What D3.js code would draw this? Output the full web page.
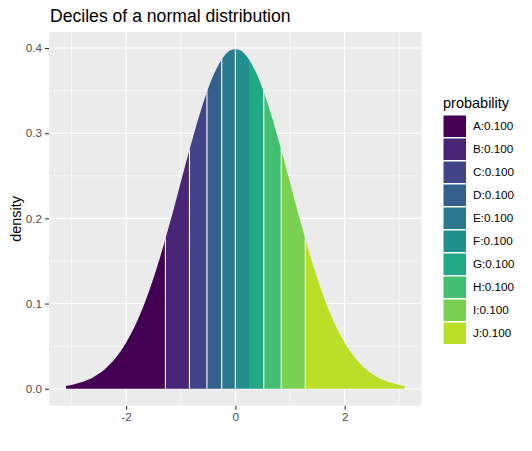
<!DOCTYPE html>
<html>
<head>
<meta charset="utf-8">
<script src="https://cdn.jsdelivr.net/npm/d3@7"></script>
<style>
  body { margin: 0; background: #fff; }
  text { font-family: "Liberation Sans", Arial, sans-serif; }
</style>
</head>
<body>
<div id="chart"></div>
<script>
const width = 532;
const height = 451;

// density curve, x from -3.1 to 3.1
const xs = [-3.1, -3.0, -2.9, -2.8, -2.7, -2.6, -2.5, -2.4, -2.3, -2.2, -2.1, -2.0,
    -1.9, -1.8, -1.7, -1.6, -1.5, -1.4, -1.3, -1.2, -1.1, -1.0, -0.9, -0.8, -0.7,
    -0.6, -0.5, -0.4, -0.3, -0.2, -0.1, 0.0, 0.1, 0.2, 0.3, 0.4, 0.5, 0.6, 0.7, 0.8,
    0.9, 1.0, 1.1, 1.2, 1.3, 1.4, 1.5, 1.6, 1.7, 1.8, 1.9, 2.0, 2.1, 2.2, 2.3, 2.4,
    2.5, 2.6, 2.7, 2.8, 2.9, 3.0, 3.1];
const densities = [0.0033, 0.0044, 0.0060, 0.0079, 0.0104, 0.0136, 0.0175, 0.0224,
    0.0283, 0.0355, 0.0440, 0.0540, 0.0656, 0.0790, 0.0940, 0.1109, 0.1295, 0.1497,
    0.1714, 0.1942, 0.2179, 0.2420, 0.2661, 0.2897, 0.3123, 0.3332, 0.3521, 0.3683,
    0.3814, 0.3910, 0.3970, 0.3989, 0.3970, 0.3910, 0.3814, 0.3683, 0.3521, 0.3332,
    0.3123, 0.2897, 0.2661, 0.2420, 0.2179, 0.1942, 0.1714, 0.1497, 0.1295, 0.1109,
    0.0940, 0.0790, 0.0656, 0.0540, 0.0440, 0.0355, 0.0283, 0.0224, 0.0175, 0.0136,
    0.0104, 0.0079, 0.0060, 0.0044, 0.0033];

// decile cut points and legend
const breaks = [-3.1, -1.28, -0.84, -0.52, -0.25, 0, 0.25, 0.52, 0.84, 1.28, 3.1];
const labels = ["A:0.100", "B:0.100", "C:0.100", "D:0.100", "E:0.100",
    "F:0.100", "G:0.100", "H:0.100", "I:0.100", "J:0.100"];
const colors = ["#440154", "#482576", "#414487", "#35608D", "#2A788E",
    "#21908C", "#22A884", "#43BF71", "#7AD151", "#BBDF27"];
const gapLines = [-1.28, -0.84, -0.52, -0.25, 0, 0.52, 0.84, 1.28];

const xTicks = [-2, 0, 2];
const xMinor = [-3, -1, 1, 3];
const yTicks = [0, 0.1, 0.2, 0.3, 0.4];
const yMinor = [0.05, 0.15, 0.25, 0.35];

const panel = { left: 49, right: 421.7, top: 32, bottom: 405.7 };

const data = xs.map((x, i) => ({ x: x, y: densities[i] }));

const svg = d3.select("#chart")
    .append("svg")
    .attr("width", width)
    .attr("height", height);

// ggplot style 5% expansion
const xExt = d3.extent(xs);
const xPad = (xExt[1] - xExt[0]) * 0.05;
const x = d3.scaleLinear()
    .domain([xExt[0] - xPad, xExt[1] + xPad])
    .range([panel.left, panel.right]);

const yMax = d3.max(densities);
const y = d3.scaleLinear()
    .domain([-yMax * 0.05, yMax * 1.05])
    .range([panel.bottom, panel.top]);

// panel background and grid
svg.append("rect")
    .attr("x", panel.left)
    .attr("y", panel.top)
    .attr("width", panel.right - panel.left)
    .attr("height", panel.bottom - panel.top)
    .attr("fill", "#EBEBEB");

const grid = svg.append("g");
grid.selectAll(".xminor").data(xMinor).enter().append("line")
    .attr("x1", d => x(d)).attr("x2", d => x(d))
    .attr("y1", panel.top).attr("y2", panel.bottom)
    .attr("stroke", "#fff").attr("stroke-width", 0.55);
grid.selectAll(".yminor").data(yMinor).enter().append("line")
    .attr("x1", panel.left).attr("x2", panel.right)
    .attr("y1", d => y(d)).attr("y2", d => y(d))
    .attr("stroke", "#fff").attr("stroke-width", 0.55);
grid.selectAll(".xmajor").data(xTicks).enter().append("line")
    .attr("x1", d => x(d)).attr("x2", d => x(d))
    .attr("y1", panel.top).attr("y2", panel.bottom)
    .attr("stroke", "#fff").attr("stroke-width", 1.1);
grid.selectAll(".ymajor").data(yTicks).enter().append("line")
    .attr("x1", panel.left).attr("x2", panel.right)
    .attr("y1", d => y(d)).attr("y2", d => y(d))
    .attr("stroke", "#fff").attr("stroke-width", 1.1);

// the area, one copy per decile clipped to its x range
const area = d3.area()
    .x(d => x(d.x))
    .y0(y(0))
    .y1(d => y(d.y))
    .curve(d3.curveMonotoneX);

const defs = svg.append("defs");
colors.forEach((c, i) => {
    defs.append("clipPath").attr("id", "dec" + i)
        .append("rect")
        .attr("x", x(breaks[i]))
        .attr("y", panel.top)
        .attr("width", x(breaks[i + 1]) - x(breaks[i]))
        .attr("height", panel.bottom - panel.top);
    svg.append("path")
        .datum(data)
        .attr("d", area)
        .attr("fill", c)
        .attr("clip-path", "url(#dec" + i + ")");
});

// thin white gaps between the pieces
defs.append("clipPath").attr("id", "curveClip")
    .append("path").datum(data).attr("d", area);
svg.append("g")
    .attr("clip-path", "url(#curveClip)")
    .selectAll("line").data(gapLines).enter().append("line")
    .attr("x1", d => x(d)).attr("x2", d => x(d))
    .attr("y1", panel.top).attr("y2", y(0))
    .attr("stroke", "#fff").attr("stroke-width", 1.1);

// axes
const xAxis = svg.append("g")
    .attr("transform", `translate(0,${panel.bottom})`)
    .call(d3.axisBottom(x).tickValues(xTicks).tickSize(4).tickPadding(3).tickFormat(d3.format("d")));
const yAxis = svg.append("g")
    .attr("transform", `translate(${panel.left},0)`)
    .call(d3.axisLeft(y).tickValues(yTicks).tickSize(4).tickPadding(3).tickFormat(d3.format(".1f")));
[xAxis, yAxis].forEach(a => {
    a.select(".domain").remove();
    a.selectAll(".tick line").attr("stroke", "#333").attr("stroke-width", 1.1);
    a.selectAll(".tick text")
        .attr("fill", "#4D4D4D")
        .style("font-size", "11.7px")
        .style("font-family", "'Liberation Sans', Arial, sans-serif");
});
xAxis.selectAll(".tick text").text(d => d < 0 ? "-" + Math.abs(d) : d);

// titles
svg.append("text")
    .attr("x", 50)
    .attr("y", 22)
    .attr("fill", "#000")
    .style("font-size", "17.6px")
    .text("Deciles of a normal distribution");

svg.append("text")
    .attr("transform", `translate(20.5,${(panel.top + panel.bottom) / 2}) rotate(-90)`)
    .attr("text-anchor", "middle")
    .attr("fill", "#000")
    .style("font-size", "14.5px")
    .text("density");

// legend
const legend = svg.append("g").attr("transform", "translate(443,0)");
legend.append("text")
    .attr("x", 0)
    .attr("y", 107.5)
    .attr("fill", "#000")
    .style("font-size", "14.5px")
    .text("probability");

const keys = legend.selectAll(".key").data(labels).enter().append("g")
    .attr("transform", (d, i) => `translate(0,${115.5 + i * 23})`);
keys.append("rect")
    .attr("x", 0.5)
    .attr("width", 22.5)
    .attr("height", 21.5)
    .attr("fill", (d, i) => colors[i]);
keys.append("text")
    .attr("x", 30)
    .attr("y", 10.75)
    .attr("dy", "0.36em")
    .attr("fill", "#000")
    .style("font-size", "11.7px")
    .text(d => d);
</script>
</body>
</html>
